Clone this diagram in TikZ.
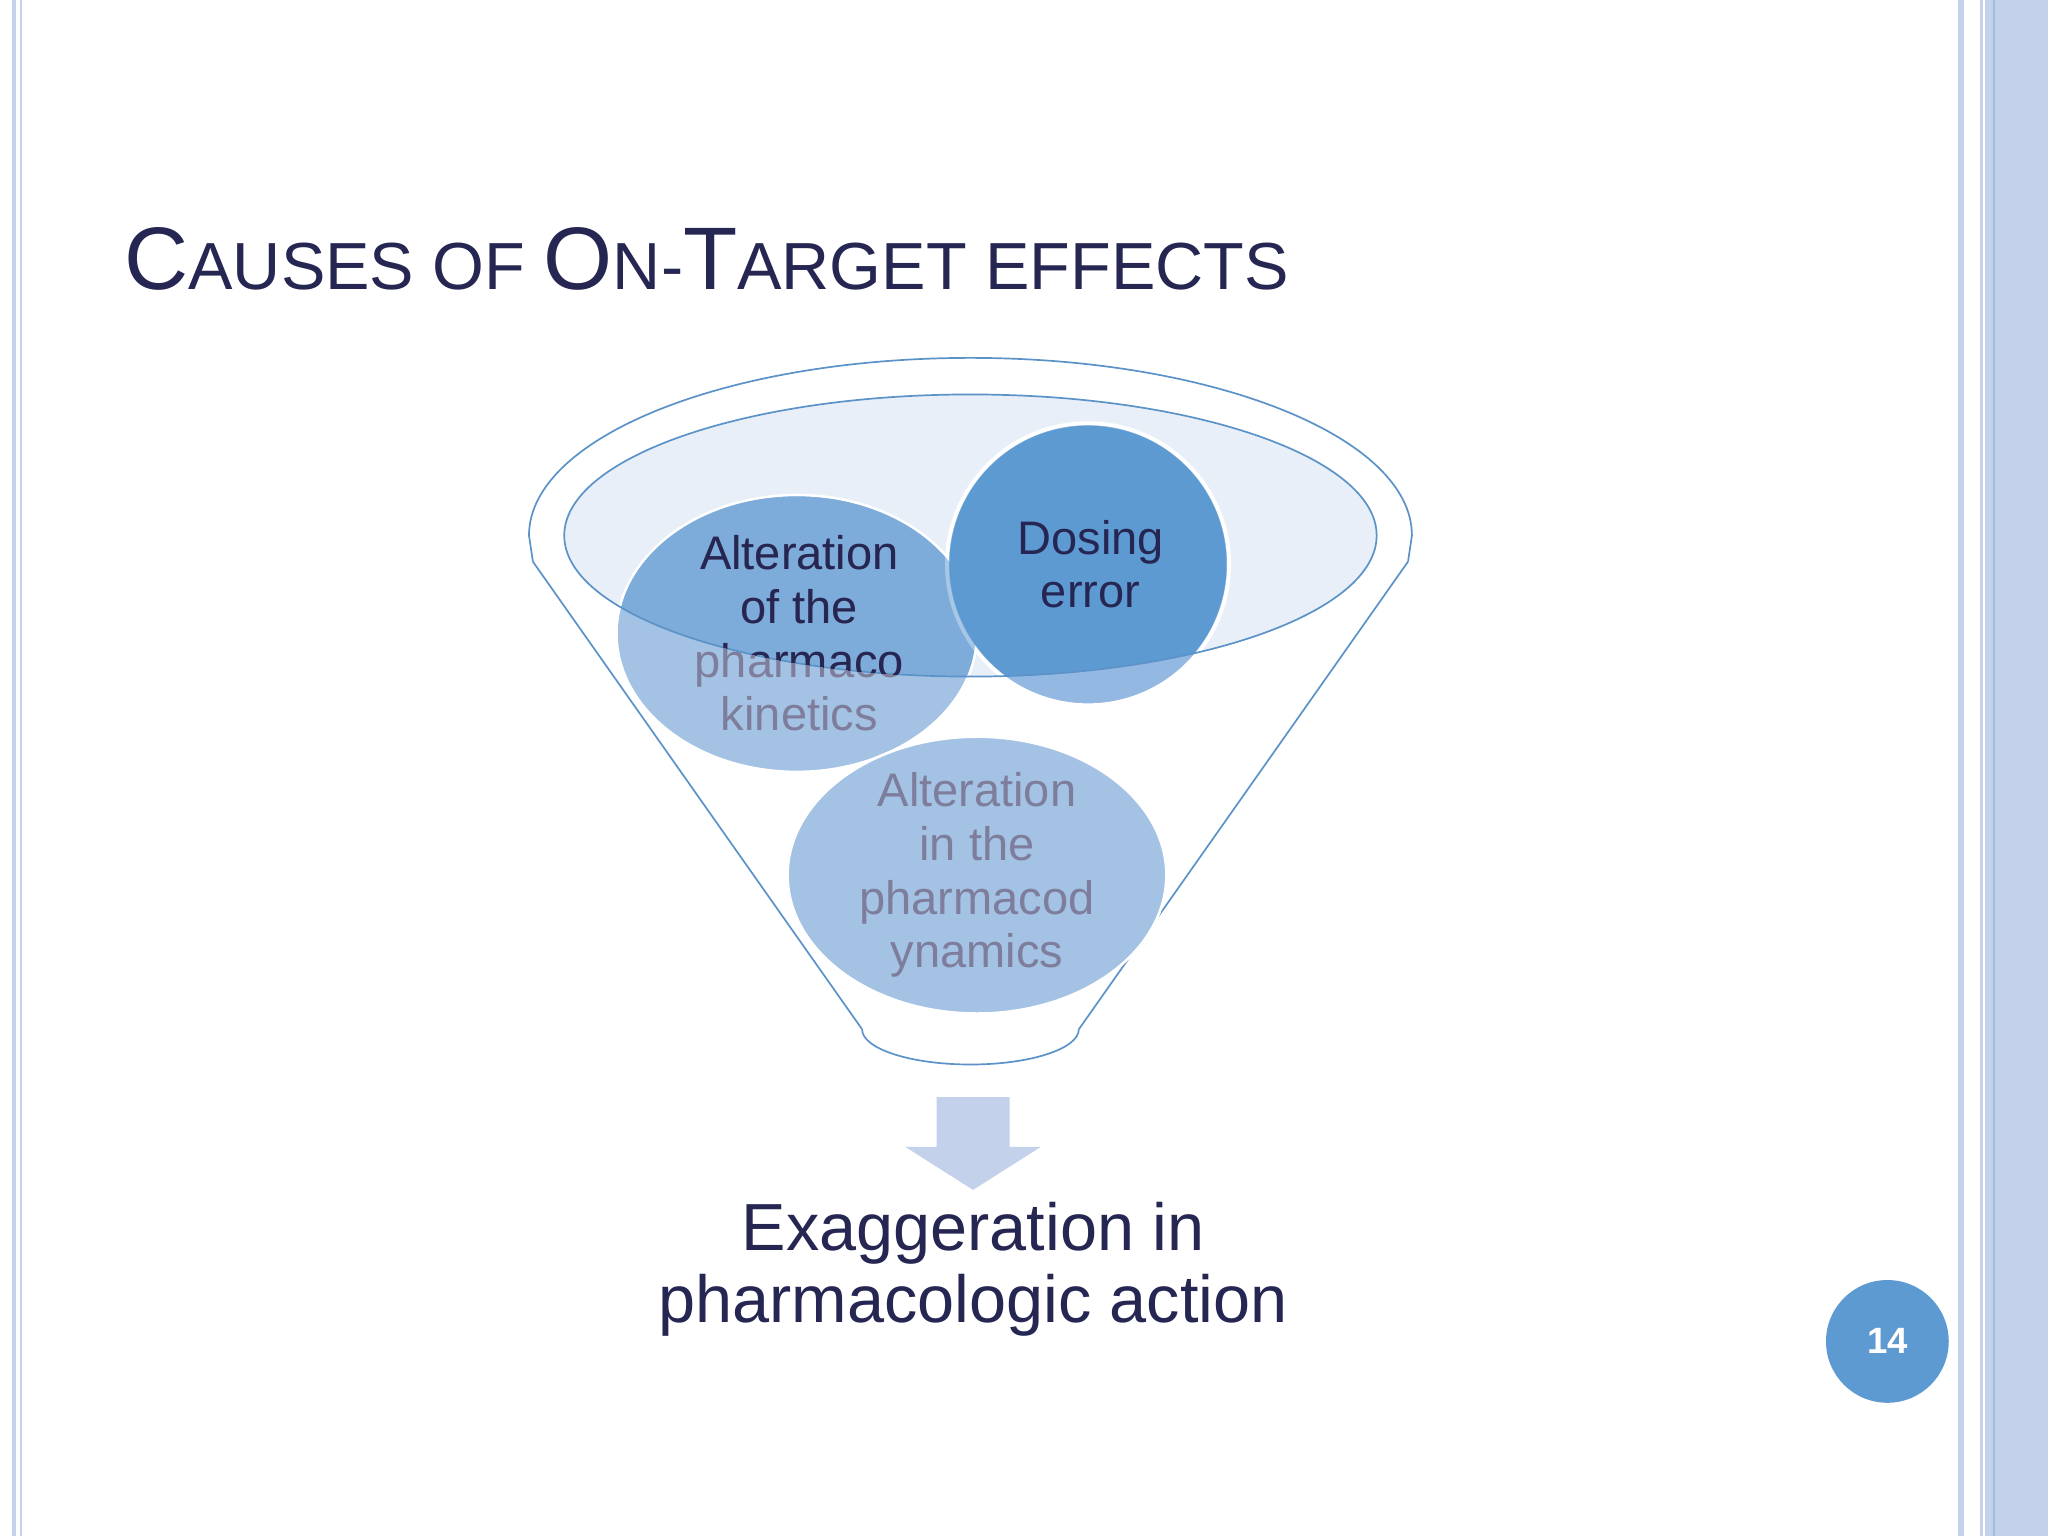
\documentclass[tikz,border=0pt]{standalone}
\usepackage{fontspec}
\usetikzlibrary{shapes.geometric}
\setmainfont{Liberation Sans}
\definecolor{navy}{HTML}{262653}
\definecolor{grayt}{HTML}{7E7E9C}
\definecolor{lb}{HTML}{A3C2E4}
\definecolor{mb}{HTML}{93B9E2}
\definecolor{db}{HTML}{5E9AD2}
\definecolor{edge}{HTML}{5B93C8}
\definecolor{bord}{HTML}{C3D2EA}
\definecolor{pale}{HTML}{E8EFF9}
\begin{document}
\begin{tikzpicture}[x=1pt,y=-1pt,
 ctext/.style={align=center,font=\fontsize{36}{41}\selectfont},
 ttl/.style={font=\fontsize{68}{68}\selectfont,text=navy,anchor=base west,inner sep=0}]
\useasboundingbox (0,0) rectangle (1568,1176);
\fill[white] (0,0) rectangle (1568,1176);
% borders
\fill[bord] (9,0) rectangle (12,1176);
\fill[bord] (15,0) rectangle (17,1176);
\fill[bord] (1499,0) rectangle (1504,1176);
\fill[bord] (1516,0) rectangle (1568,1176);
\draw[edge!60,line width=1.5] (1527,0) -- (1527,1176);
\draw[white,line width=2] (1519,0) -- (1519,1176);
% title
\node[ttl] (t) at (95,222) {C\fontsize{51}{51}\selectfont AUSES OF \fontsize{68}{68}\selectfont O\fontsize{51}{51}\selectfont N-\fontsize{68}{68}\selectfont T\fontsize{51}{51}\selectfont ARGET EFFECTS};
% funnel
\coordinate (bl) at (660,788);
\coordinate (br) at (826,788);
\coordinate (tl) at (408,430);
\coordinate (tr) at (1078,430);
\draw[edge,line width=1.3] (tl) -- (bl);
\draw[edge,line width=1.3] (tr) -- (br);
\draw[edge,line width=1.3] (bl) arc[start angle=180,end angle=0,x radius=83,y radius=27];
\draw[edge,line width=1.3] (tl) -- (405,410) arc[start angle=180,end angle=360,x radius=338,y radius=136] -- (tr);
% inner ellipse base
\fill[pale] (743,410) ellipse[x radius=311,y radius=108];
% circles
\node[ellipse,fill=lb,minimum width=276,minimum height=212,draw=white,line width=2] (pk) at (610,485) {};
\node[ellipse,fill=lb,minimum width=290,minimum height=212,draw=white,line width=2] (pd) at (748,670) {};
\node[circle,fill=mb,minimum size=216,draw=white,line width=3] (de) at (833,432) {};
\begin{scope}
\clip (743,410) ellipse[x radius=311,y radius=108];
\fill[db,opacity=0.55] (pk.center) ellipse[x radius=137,y radius=105];
\fill[db] (de.center) circle[radius=106];
\end{scope}
\draw[edge,line width=1.3] (743,410) ellipse[x radius=311,y radius=108];
% texts
\node[ctext,text=grayt] (pkt) at (612,485) {Alteration\\of the\\pharmaco\\kinetics};
\node[ctext,text=grayt] (pdt) at (748,670) {Alteration\\in the\\pharmacod\\ynamics};
\node[ctext,text=navy] (det) at (835,432) {Dosing\\error};
\begin{scope}
\clip (743,410) ellipse[x radius=311,y radius=108];
\node[ctext,text=navy] at (612,485) {Alteration\\of the\\pharmaco\\kinetics};
\end{scope}
% arrow
\fill[bord] (717,840) -- (773,840) -- (773,878) -- (797,878) -- (745,911) -- (693,878) -- (717,878) -- cycle;
\node[align=center,text=navy,font=\fontsize{51}{55}\selectfont] (res) at (745,972) {Exaggeration in\\pharmacologic action};
% page number
\node[circle,fill=db,minimum size=94,text=white,font=\bfseries\fontsize{28}{28}\selectfont] (pn) at (1445,1027) {14};
\end{tikzpicture}
\end{document}
